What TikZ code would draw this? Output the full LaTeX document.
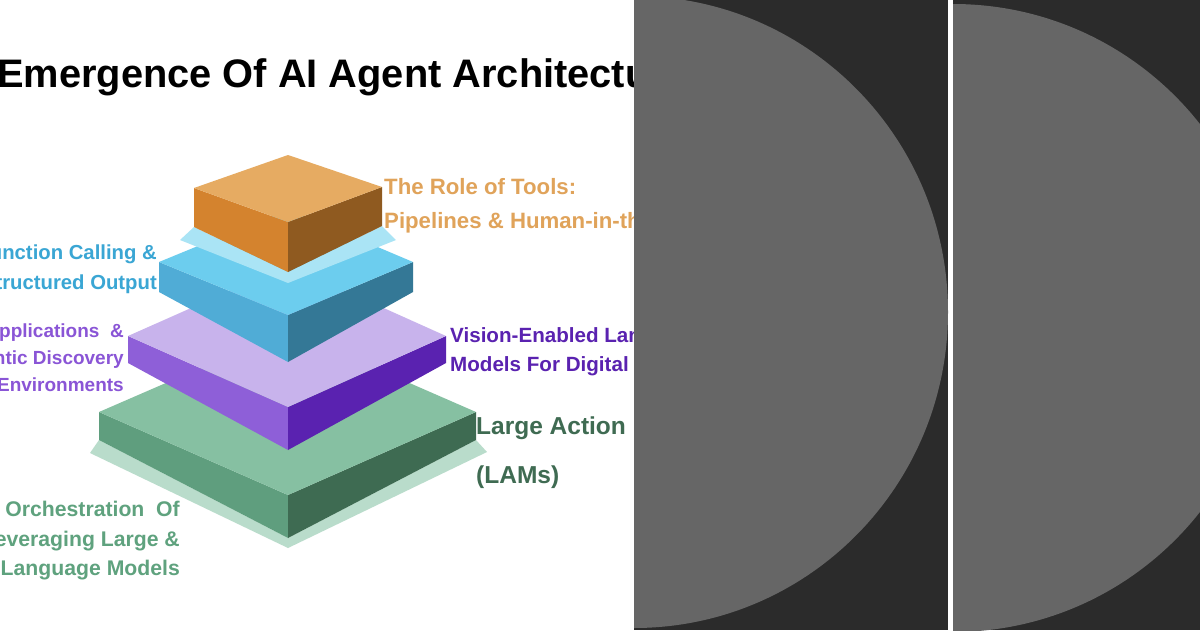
\documentclass[tikz,border=0pt]{standalone}
\usepackage{fontspec}
\setmainfont{Liberation Sans}
\begin{document}
\begin{tikzpicture}[x=1pt,y=-1pt,
  lbl/.style={font=\bfseries\fontsize{19}{29}\selectfont, inner sep=0pt},
  side/.style={draw=none}]
\useasboundingbox (0,0) rectangle (1200,630);
\fill[white] (0,0) rectangle (1200,630);
\begin{scope}
\clip (0,0) rectangle (634,630);
\node[anchor=base west, inner sep=0pt, font=\bfseries\fontsize{39.8}{44}\selectfont] (title) at (-3,87) {Emergence Of AI Agent Architectures};
% green layer
\fill[color={rgb,255:red,185;green,220;blue,203}] (90,453) -- (288,548) -- (487,452) -- (476,440) -- (288,538) -- (99,440) -- cycle;
\fill[color={rgb,255:red,95;green,158;blue,126}] (99,412) -- (288,495) -- (288,538) -- (99,440) -- cycle;
\fill[color={rgb,255:red,62;green,107;blue,82}] (476,412) -- (288,495) -- (288,538) -- (476,440) -- cycle;
\fill[color={rgb,255:red,134;green,192;blue,162}] (99,412) -- (288,330) -- (476,412) -- (288,495) -- cycle;
% purple layer
\fill[color={rgb,255:red,142;green,95;blue,216}] (128,336) -- (288,407) -- (288,450) -- (128,363) -- cycle;
\fill[color={rgb,255:red,90;green,34;blue,176}] (446,336) -- (288,407) -- (288,450) -- (446,363) -- cycle;
\fill[color={rgb,255:red,200;green,179;blue,236}] (128,336) -- (288,265) -- (446,336) -- (288,407) -- cycle;
% blue layer
\fill[color={rgb,255:red,80;green,172;blue,214}] (159,262) -- (288,315) -- (288,362) -- (159,292) -- cycle;
\fill[color={rgb,255:red,52;green,120;blue,150}] (413,262) -- (288,315) -- (288,362) -- (413,292) -- cycle;
\fill[color={rgb,255:red,108;green,205;blue,238}] (159,262) -- (288,209) -- (413,262) -- (288,315) -- cycle;
\fill[color={rgb,255:red,170;green,228;blue,245}] (180,240) -- (288,283) -- (396,240) -- (382,226) -- (288,272) -- (194,227) -- cycle;
% orange block
\fill[color={rgb,255:red,212;green,131;blue,46}] (194,188) -- (288,222) -- (288,272) -- (194,227) -- cycle;
\fill[color={rgb,255:red,143;green,90;blue,32}] (382,187) -- (288,222) -- (288,272) -- (382,226) -- cycle;
\fill[color={rgb,255:red,230;green,171;blue,98}] (194,188) -- (288,155) -- (382,187) -- (288,222) -- cycle;
% labels
\node[lbl, anchor=west, align=left, font=\bfseries\fontsize{22.2}{34}\selectfont, text={rgb,255:red,224;green,163;blue,90}] (tools) at (384,206) {The Role of Tools:\\Pipelines \& Human-in-the-Loop};
\node[lbl, anchor=east, align=right, font=\bfseries\fontsize{20.3}{30}\selectfont, text={rgb,255:red,58;green,166;blue,212}] (func) at (157,269) {Function Calling \&\\Structured Output};
\node[lbl, anchor=east, align=right, font=\bfseries\fontsize{19}{27}\selectfont, text={rgb,255:red,138;green,85;blue,214}] (apps) at (124,358) {Web Applications \ \&\\Agentic Discovery\\Environments};
\node[lbl, anchor=west, align=left, font=\bfseries\fontsize{20.6}{29}\selectfont, text={rgb,255:red,90;green,34;blue,176}] (vision) at (450,352) {Vision-Enabled Language\\Models For Digital Interfaces};
\node[lbl, anchor=west, font=\bfseries\fontsize{24.5}{26}\selectfont, text={rgb,255:red,63;green,107;blue,82}] (lam1) at (476,428) {Large Action Models};
\node[lbl, anchor=west, font=\bfseries\fontsize{24.5}{26}\selectfont, text={rgb,255:red,63;green,107;blue,82}] (lam2) at (476,477) {(LAMs)};
\node[lbl, anchor=east, align=right, font=\bfseries\fontsize{21.2}{29.5}\selectfont, text={rgb,255:red,95;green,162;blue,126}] (orch) at (180,541) {Agentic Orchestration \ Of\\Agents Leveraging Large \&\\Small Language Models};
\end{scope}
% dark panels
\fill[color={rgb,255:red,43;green,43;blue,43}] (634,0) rectangle (948,630);
\fill[white] (948,0) rectangle (953,630);
\fill[color={rgb,255:red,43;green,43;blue,43}] (953,0) rectangle (1200,630);
\begin{scope}
\clip (634,0) rectangle (948,630);
\fill[color={rgb,255:red,102;green,102;blue,102}] (634,312) ellipse [x radius=314, y radius=316];
\end{scope}
\begin{scope}
\clip (953,0) rectangle (1200,630);
\fill[color={rgb,255:red,102;green,102;blue,102}] (953,318) ellipse [x radius=314, y radius=314];
\end{scope}
\end{tikzpicture}
\end{document}
